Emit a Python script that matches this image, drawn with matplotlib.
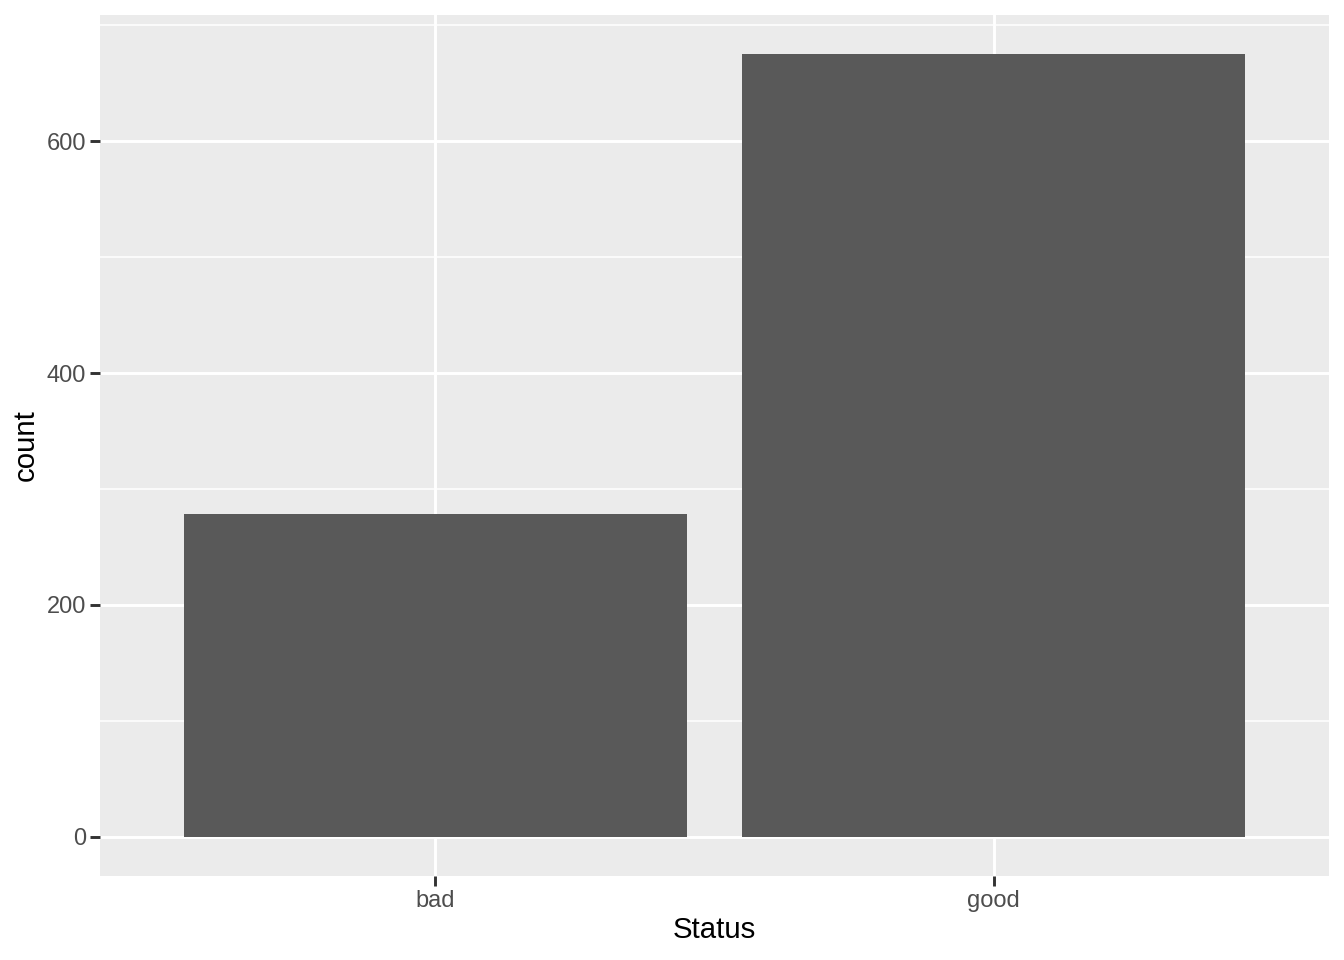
# bar chart of counts per status, ggplot-like look
import numpy as np
import matplotlib.pyplot as plt

plt.rcParams['font.family'] = ['Liberation Sans', 'DejaVu Sans']

status = ['bad', 'good']
counts = [278, 675]

fig = plt.figure(figsize=(13.44, 9.6), dpi=100)
ax = fig.add_axes([100/1344, 1-876/960, (1329-100)/1344, (876-15)/960])

x = np.arange(1, len(status)+1)
ax.set_facecolor('#EBEBEB')
ax.set_axisbelow(True)

# grid like theme_gray
for yv in [100, 300, 500, 700]:
    ax.axhline(yv, color='white', lw=1.1, zorder=0)
ax.grid(True, which='major', color='white', lw=2.1)

ax.bar(x, counts, width=0.9, color='#595959', zorder=2)

ax.set_xlim(0.4, 2.6)
ax.set_ylim(-0.05*max(counts), 1.05*max(counts))
ax.set_xticks(x)
ax.set_xticklabels(status)
ax.set_yticks([0, 200, 400, 600])

for s in ax.spines.values():
    s.set_visible(False)
ax.tick_params(axis='both', length=7.3, width=2.1, color='#333333',
               labelcolor='#4D4D4D', labelsize=17, pad=2.8)

ax.set_xlabel('Status', fontsize=21.2, color='black', labelpad=3)
ax.set_ylabel('count', fontsize=21.2, color='black', labelpad=5)

fig.savefig('out.png', dpi=100)
